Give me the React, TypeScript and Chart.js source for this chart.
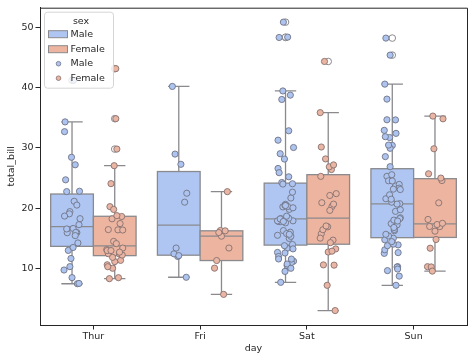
import React, { useEffect, useRef } from 'react';
import { Chart, registerables } from 'chart.js';

Chart.register(...registerables);

// ---------- data ----------
const DAYS = ['Thur', 'Fri', 'Sat', 'Sun'];
const SEXES = ['Male', 'Female'];
const Y_TICKS = [10, 20, 30, 40, 50];
const Y_MIN = 0.68;
const Y_MAX = 53.2;

const THUR_MALE = [27.2, 22.76, 17.29, 19.44, 16.66, 32.68, 15.98, 13.03, 18.28, 24.71, 21.16, 11.69, 14.26, 15.95, 8.52, 22.82, 19.08, 16.0, 34.3, 41.19, 9.78, 7.51, 28.44, 15.48, 16.58, 7.56, 10.34, 13.51, 18.71, 20.53];
const THUR_FEMALE = [10.07, 34.83, 10.65, 12.43, 24.08, 13.42, 12.48, 29.8, 14.52, 11.38, 20.27, 11.17, 12.26, 18.26, 8.51, 10.33, 14.15, 13.16, 17.47, 27.05, 16.43, 8.35, 18.64, 11.87, 43.11, 13.0, 12.74, 13.0, 16.4, 16.47, 18.78, 19.81];
const FRI_MALE = [28.97, 22.49, 40.17, 27.28, 12.03, 21.01, 12.46, 12.16, 8.58, 13.42];
const FRI_FEMALE = [5.75, 16.32, 22.75, 11.35, 15.38, 13.42, 15.98, 16.27, 10.09];
const SAT_MALE = [20.65, 17.92, 39.42, 19.82, 17.81, 13.37, 12.69, 21.7, 9.55, 18.35, 17.78, 24.06, 16.31, 18.69, 31.27, 16.04, 38.01, 11.24, 48.27, 20.29, 13.81, 11.02, 18.29, 17.59, 20.08, 20.23, 15.01, 12.02, 10.51, 17.92, 15.36, 20.49, 25.21, 18.24, 14.0, 50.81, 15.81, 26.59, 38.73, 24.27, 30.06, 25.89, 48.33, 28.15, 11.59, 7.74, 20.45, 13.28, 24.01, 15.69, 11.61, 10.77, 15.53, 10.07, 12.6, 32.83, 29.03, 22.67, 17.82];
const SAT_FEMALE = [20.29, 15.77, 19.65, 15.06, 20.69, 16.93, 26.41, 16.45, 3.07, 17.07, 26.86, 25.28, 14.73, 44.3, 22.42, 20.92, 14.31, 7.25, 10.59, 10.63, 12.76, 13.27, 28.17, 12.9, 30.14, 22.12, 35.83, 27.18];
const SUN_MALE = [10.34, 21.01, 23.68, 25.29, 8.77, 26.88, 15.04, 14.78, 10.27, 15.42, 18.43, 21.58, 16.29, 17.46, 13.94, 9.68, 30.4, 18.29, 22.23, 32.4, 28.55, 18.04, 12.54, 9.94, 25.56, 19.49, 38.07, 23.95, 29.93, 14.07, 13.13, 17.26, 24.55, 19.77, 48.17, 16.49, 21.5, 12.66, 13.81, 24.52, 20.76, 31.71, 7.25, 31.85, 16.82, 32.9, 17.89, 14.48, 34.63, 34.65, 23.33, 45.35, 23.17, 40.55, 20.69, 30.46, 23.1, 15.69];
const SUN_FEMALE = [16.99, 24.59, 35.26, 14.83, 10.33, 16.97, 10.29, 34.81, 25.71, 17.31, 29.85, 25.0, 13.39, 16.21, 17.51, 9.6, 20.9, 18.15];

// fixed horizontal jitter offsets (category units) for strip points
const JITTER = [0.03, -0.05, 0.065, -0.02, 0.01, -0.07, 0.045, -0.035, 0.075, -0.06, 0.02, -0.01, 0.055, -0.045, 0.0, 0.07, -0.025, 0.035, -0.065, 0.015, -0.075, 0.05, -0.005];

const BILLS: number[][][] = [
  [THUR_MALE, THUR_FEMALE],
  [FRI_MALE, FRI_FEMALE],
  [SAT_MALE, SAT_FEMALE],
  [SUN_MALE, SUN_FEMALE],
];

// ---------- styles ----------
const BOX_FILL = ['#afc6f2', '#edb59f'];
const POINT_FILL = ['#adc4f0', '#ebb5a3'];
const POINT_EDGE = ['#6f7486', '#87706e'];
const LINE = '#8a8a8e';
const TEXT = '#262626';
const FONT = 'DejaVu Sans, sans-serif';
const DODGE = 0.2;
const HALF_BOX = 0.2;

function quantile(s: number[], q: number) {
  const pos = (s.length - 1) * q;
  const lo = Math.floor(pos);
  const hi = Math.ceil(pos);
  return s[lo] + (s[hi] - s[lo]) * (pos - lo);
}

function boxStats(vals: number[]) {
  const s = [...vals].sort((a, b) => a - b);
  const q1 = quantile(s, 0.25);
  const med = quantile(s, 0.5);
  const q3 = quantile(s, 0.75);
  const iqr = q3 - q1;
  const inner = s.filter((v) => v >= q1 - 1.5 * iqr && v <= q3 + 1.5 * iqr);
  const lo = inner[0];
  const hi = inner[inner.length - 1];
  const fliers = s.filter((v) => v < lo || v > hi);
  return { q1, med, q3, lo, hi, fliers };
}

const boxPlugin = {
  id: 'boxes',
  beforeDatasetsDraw(chart: any) {
    const { ctx, scales } = chart;
    const x = scales.x;
    const y = scales.y;
    ctx.save();
    BILLS.forEach((pair, di) => {
      pair.forEach((vals, si) => {
        const st = boxStats(vals);
        const c = di + (si === 0 ? -DODGE : DODGE);
        const xl = x.getPixelForValue(c - HALF_BOX);
        const xr = x.getPixelForValue(c + HALF_BOX);
        const xc = x.getPixelForValue(c);
        const cl = x.getPixelForValue(c - HALF_BOX / 2);
        const cr = x.getPixelForValue(c + HALF_BOX / 2);
        const yq1 = y.getPixelForValue(st.q1);
        const yq3 = y.getPixelForValue(st.q3);
        const ym = y.getPixelForValue(st.med);
        const ylo = y.getPixelForValue(st.lo);
        const yhi = y.getPixelForValue(st.hi);
        ctx.strokeStyle = LINE;
        ctx.lineWidth = 1.3;
        ctx.beginPath();
        ctx.moveTo(xc, yq3); ctx.lineTo(xc, yhi);
        ctx.moveTo(xc, yq1); ctx.lineTo(xc, ylo);
        ctx.moveTo(cl, yhi); ctx.lineTo(cr, yhi);
        ctx.moveTo(cl, ylo); ctx.lineTo(cr, ylo);
        ctx.stroke();
        ctx.fillStyle = BOX_FILL[si];
        ctx.fillRect(xl, yq3, xr - xl, yq1 - yq3);
        ctx.strokeRect(xl, yq3, xr - xl, yq1 - yq3);
        ctx.beginPath();
        ctx.moveTo(xl, ym); ctx.lineTo(xr, ym);
        ctx.stroke();
        // fliers
        st.fliers.forEach((v) => {
          ctx.beginPath();
          ctx.arc(xc, y.getPixelForValue(v), 3.3, 0, Math.PI * 2);
          ctx.fillStyle = 'rgba(255,255,255,0.9)';
          ctx.fill();
          ctx.lineWidth = 1;
          ctx.strokeStyle = LINE;
          ctx.stroke();
        });
      });
    });
    ctx.restore();
  },
  afterDraw(chart: any) {
    const { ctx, chartArea } = chart;
    ctx.save();
    // top / right spines
    ctx.strokeStyle = TEXT;
    ctx.lineWidth = 1;
    ctx.beginPath();
    ctx.moveTo(chartArea.left, chartArea.top + 0.5);
    ctx.lineTo(chartArea.right + 0.5, chartArea.top + 0.5);
    ctx.lineTo(chartArea.right + 0.5, chartArea.bottom);
    ctx.stroke();

    // legend
    const L = chartArea.left + 4.5;
    const T = chartArea.top + 4.5;
    const W = 69;
    const H = 76;
    ctx.beginPath();
    (ctx as any).roundRect(L, T, W, H, 3);
    ctx.fillStyle = 'rgba(255,255,255,0.8)';
    ctx.fill();
    ctx.strokeStyle = '#d5d5d5';
    ctx.lineWidth = 1;
    ctx.stroke();

    ctx.font = `9.5px ${FONT}`;
    ctx.fillStyle = TEXT;
    ctx.textBaseline = 'middle';
    ctx.textAlign = 'center';
    ctx.fillText('sex', L + W / 2 + 2, T + 9);
    ctx.textAlign = 'left';
    const rows = [T + 22, T + 37, T + 51.5, T + 66];
    const tx = L + 26;
    SEXES.forEach((s, si) => {
      const ry = rows[si];
      ctx.fillStyle = BOX_FILL[si];
      ctx.fillRect(L + 4, ry - 3.5, 19, 7);
      ctx.strokeStyle = LINE;
      ctx.lineWidth = 1;
      ctx.strokeRect(L + 4, ry - 3.5, 19, 7);
      ctx.fillStyle = TEXT;
      ctx.fillText(s, tx, ry);
    });
    SEXES.forEach((s, si) => {
      const ry = rows[si + 2];
      ctx.beginPath();
      ctx.arc(L + 14, ry, 2.3, 0, Math.PI * 2);
      ctx.fillStyle = POINT_FILL[si];
      ctx.fill();
      ctx.strokeStyle = POINT_EDGE[si];
      ctx.lineWidth = 0.8;
      ctx.stroke();
      ctx.fillStyle = TEXT;
      ctx.fillText(s, tx, ry);
    });
    ctx.restore();
  },
};

function pointsFor(si: number) {
  const pts: { x: number; y: number }[] = [];
  BILLS.forEach((pair, di) => {
    pair[si].forEach((v, i) => {
      const c = di + (si === 0 ? -DODGE : DODGE);
      pts.push({ x: c + JITTER[(i + di * 7 + si * 3) % JITTER.length], y: v });
    });
  });
  return pts;
}

export default function App() {
  const ref = useRef<HTMLCanvasElement | null>(null);
  useEffect(() => {
    document.body.style.margin = '0';
    if (!ref.current) return;
    const chart = new Chart(ref.current, {
      type: 'scatter',
      data: {
        datasets: SEXES.map((s, si) => ({
          label: s,
          data: pointsFor(si),
          backgroundColor: POINT_FILL[si],
          borderColor: POINT_EDGE[si],
          borderWidth: 0.9,
          pointRadius: 3.1,
        })),
      },
      options: {
        animation: false,
        responsive: true,
        maintainAspectRatio: false,
        devicePixelRatio: 1,
        layout: { padding: { top: 7, right: 7, left: 0, bottom: 0 } },
        plugins: { legend: { display: false }, tooltip: { enabled: false } },
        scales: {
          x: {
            type: 'linear',
            min: -0.5,
            max: 3.5,
            afterBuildTicks: (sc: any) => {
              sc.ticks = DAYS.map((_, i) => ({ value: i }));
            },
            afterFit: (sc: any) => {
              sc.height = 36;
            },
            ticks: {
              callback: (v: any) => DAYS[v as number] ?? '',
              font: { family: FONT, size: 9.5 },
              color: TEXT,
              padding: 1,
              maxRotation: 0,
            },
            grid: { drawOnChartArea: false, drawTicks: true, tickLength: 4.5, color: TEXT, lineWidth: 1 },
            border: { display: true, color: TEXT, width: 1 },
            title: {
              display: true,
              text: 'day',
              font: { family: FONT, size: 9.5 },
              color: TEXT,
              padding: { top: 0, bottom: 7 },
            },
          },
          y: {
            type: 'linear',
            min: Y_MIN,
            max: Y_MAX,
            afterBuildTicks: (sc: any) => {
              sc.ticks = Y_TICKS.map((v) => ({ value: v }));
            },
            afterFit: (sc: any) => {
              sc.width = 40;
            },
            ticks: {
              font: { family: FONT, size: 9.5 },
              color: TEXT,
              padding: 2,
            },
            grid: { drawOnChartArea: false, drawTicks: true, tickLength: 4.5, color: TEXT, lineWidth: 1 },
            border: { display: true, color: TEXT, width: 1 },
            title: {
              display: true,
              text: 'total_bill',
              font: { family: FONT, size: 9.5 },
              color: TEXT,
              padding: { top: 6, bottom: 0 },
            },
          },
        },
      },
      plugins: [boxPlugin],
    });
    return () => chart.destroy();
  }, []);
  return (
    <div style={{ width: 474, height: 361, position: 'relative' }}>
      <canvas ref={ref} />
    </div>
  );
}
